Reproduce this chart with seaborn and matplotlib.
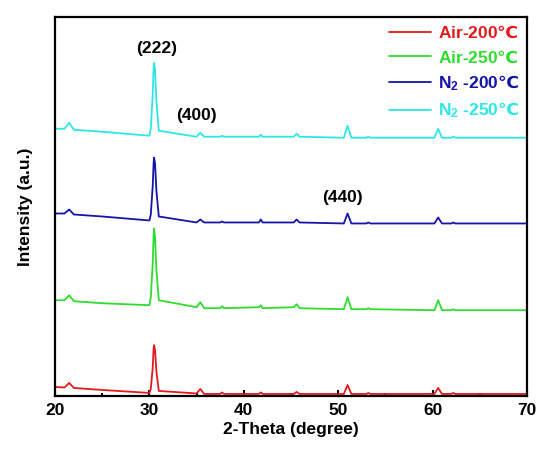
import matplotlib
matplotlib.use("Agg")
import matplotlib.pyplot as plt
from matplotlib.ticker import MultipleLocator
import seaborn as sns
import pandas as pd

# sample points along 2-theta
two_theta = [20.0, 21.0, 21.5, 22.0, 25.0, 30.0, 30.15, 30.35, 30.45, 30.5, 30.6, 30.75, 31.0,
             35.0, 35.4, 35.8, 37.5, 37.7, 37.9, 41.6, 41.8, 42.0, 45.3, 45.6, 45.9,
             50.6, 51.0, 51.4, 53.0, 53.2, 53.4, 60.2, 60.6, 61.0, 62.0, 62.2, 62.4, 70.0]

air_200 = [9, 8.5, 13, 8, 6, 3, 7, 28, 48, 51, 46, 24, 5,
           2.5, 7, 2, 2, 3.5, 2, 2, 3.5, 2, 2, 4, 2,
           2, 11, 2, 2, 3, 2, 2, 8, 2, 2, 3, 2, 2]
air_250 = [96, 96, 101, 95, 93, 91, 99, 132, 162, 168, 159, 126, 96,
           89, 94, 88, 88, 90, 88, 89, 91, 88, 89, 92, 88,
           87, 99, 87, 87, 88, 87, 86, 96, 86, 86, 87, 86, 86]
n2_200 = [183, 183, 187, 182, 180, 176, 182, 210, 234, 239, 233, 205, 180,
          174, 177, 174, 174, 175, 174, 174, 177, 174, 174, 177, 174,
          173, 183, 173, 173, 174, 173, 173, 179, 173, 173, 174, 173, 173]
n2_250 = [268, 268, 274, 267, 265, 261, 268, 302, 330, 334, 327, 295, 266,
          260, 264, 260, 260, 261, 260, 260, 262, 260, 260, 263, 260,
          259, 271, 259, 259, 260, 259, 259, 268, 259, 259, 260, 259, 259]

samples = ["Air-200℃", "Air-250℃", "N2 -200℃", "N2 -250℃"]
legend_labels = [r"Air-200$\mathrm{℃}$", r"Air-250$\mathrm{℃}$",
                 r"N$_2$ -200$\mathrm{℃}$", r"N$_2$ -250$\mathrm{℃}$"]
colors = ["#e31a1c", "#2fdc2f", "#1414a6", "#2ee6e6"]

peaks = ["(222)", "(400)", "(440)"]
peak_x = [30.8, 35.0, 50.5]
peak_y = [348, 281, 199]

frames = []
for name, vals in zip(samples, [air_200, air_250, n2_200, n2_250]):
    frames.append(pd.DataFrame({"2theta": two_theta, "intensity": vals, "sample": name}))
df = pd.concat(frames, ignore_index=True)

sns.set_style("ticks")
plt.rcParams["font.family"] = ["Liberation Sans", "DejaVu Sans"]
plt.rcParams["font.weight"] = "bold"
plt.rcParams["text.color"] = "black"
plt.rcParams["axes.labelcolor"] = "black"
plt.rcParams["xtick.color"] = "black"
plt.rcParams["ytick.color"] = "black"
plt.rcParams["mathtext.fontset"] = "custom"
plt.rcParams["mathtext.rm"] = "DejaVu Sans"
plt.rcParams["mathtext.default"] = "regular"

fig = plt.figure(figsize=(5.5, 4.62), dpi=100)
ax = fig.add_axes([0.1, 0.143, 0.858, 0.82])

sns.lineplot(data=df, x="2theta", y="intensity", hue="sample", hue_order=samples,
             palette=colors, linewidth=1.3, ax=ax, legend=False)

ax.set_xlim(20, 70)
ax.set_ylim(0, 380)
ax.xaxis.set_major_locator(MultipleLocator(10))
ax.xaxis.set_minor_locator(MultipleLocator(5))
ax.set_yticks([])
ax.tick_params(axis="x", which="major", direction="in", length=4, width=1.5,
               labelsize=12.5, pad=5)
ax.tick_params(axis="x", which="minor", direction="in", length=2.5, width=1.5)
for lab in ax.get_xticklabels():
    lab.set_fontweight("bold")
for sp in ax.spines.values():
    sp.set_visible(True)
    sp.set_linewidth(1.6)
    sp.set_color("black")

ax.set_xlabel("2-Theta (degree)", fontsize=12.5, fontweight="bold", labelpad=3)
ax.set_ylabel("Intensity (a.u.)", fontsize=12.5, fontweight="bold", labelpad=16)

for t, px, py in zip(peaks, peak_x, peak_y):
    ax.text(px, py, t, ha="center", va="center", fontsize=12.5, fontweight="bold")

handles = [plt.Line2D([], [], color=c, lw=1.3) for c in colors]
leg = ax.legend(handles, legend_labels, loc="upper right", frameon=False, fontsize=12.5,
                handlelength=2.4, handletextpad=0.4, labelspacing=0.45,
                borderaxespad=0.15, borderpad=0.3)
for txt, c in zip(leg.get_texts(), colors):
    txt.set_color(c)
    txt.set_fontweight("bold")

fig.savefig("out.png", dpi=100)
